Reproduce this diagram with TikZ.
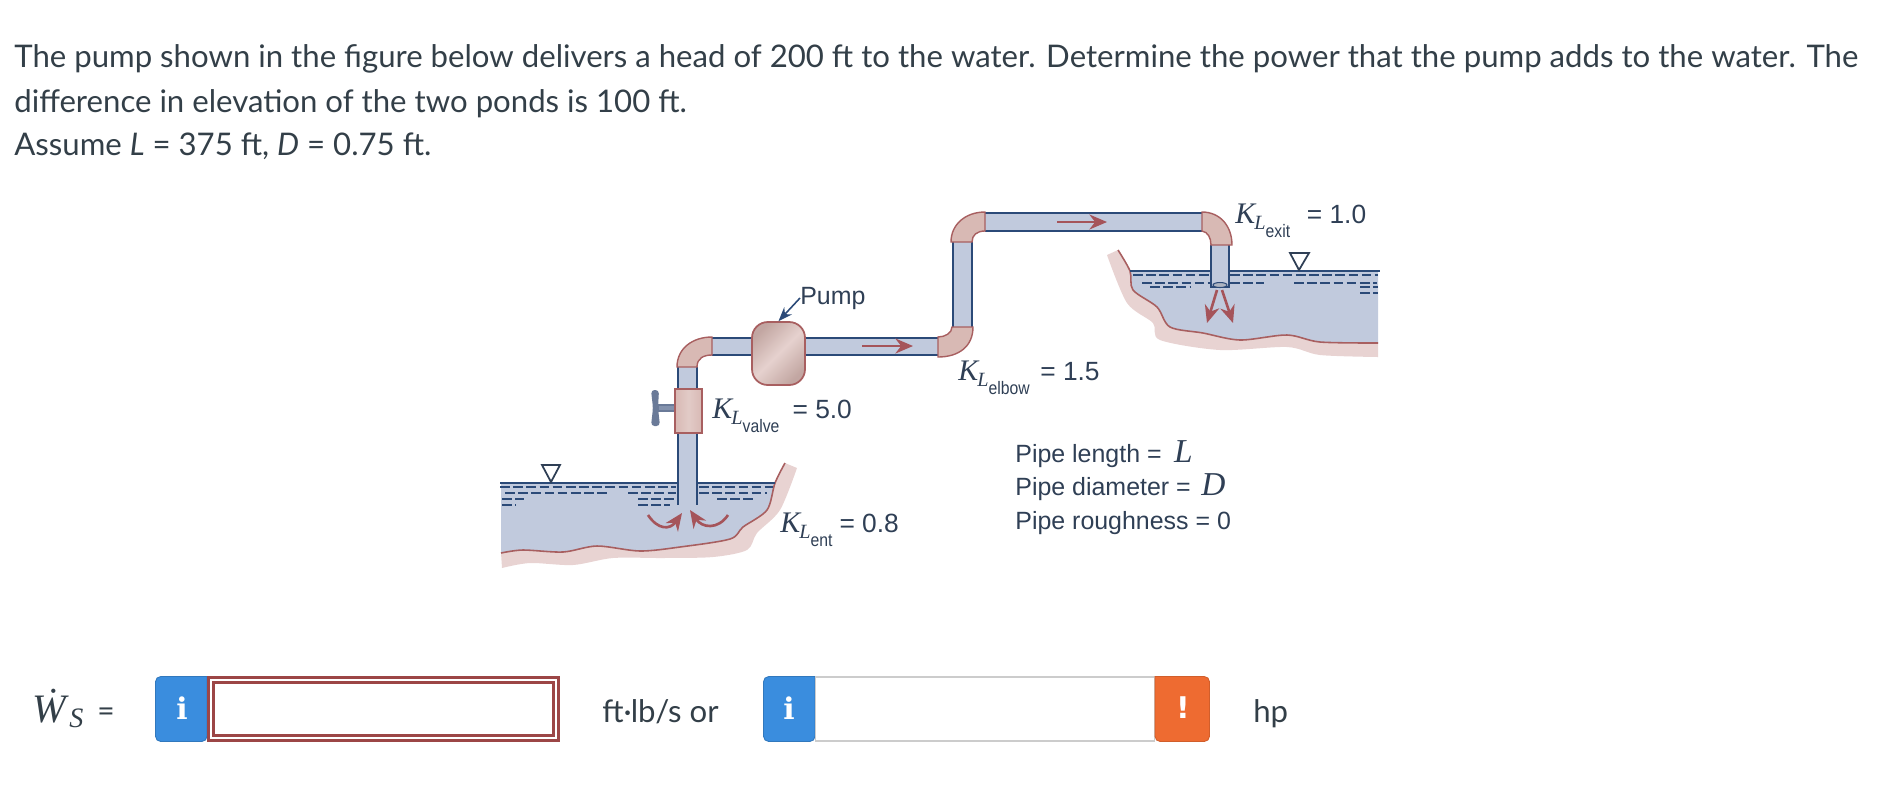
\documentclass[tikz,border=0pt]{standalone}
\usepackage{fontspec}
\setmainfont{Lato}
\newfontfamily\figsans{Liberation Sans}
\newfontfamily\figcond[FakeStretch=0.87]{Liberation Sans}
\newfontfamily\figserif{Liberation Serif}
\newfontfamily\iconserif{DejaVu Serif}
\newfontfamily\iconsans{DejaVu Sans}
\usetikzlibrary{arrows.meta}
\definecolor{bodytext}{HTML}{333F48}
\definecolor{figtext}{HTML}{2F3F55}
\definecolor{pipeline}{HTML}{2B4A78}
\definecolor{waterfill}{HTML}{C1CADD}
\definecolor{fitfill}{HTML}{D8B9B4}
\definecolor{fitline}{HTML}{A85F60}
\definecolor{bankfill}{HTML}{E8D3D2}
\definecolor{flowred}{HTML}{A5545A}
\definecolor{infoblue}{HTML}{3A8DDE}
\definecolor{warnorange}{HTML}{EE6B31}
\definecolor{boxred}{HTML}{9C4646}
\definecolor{boxgrey}{HTML}{CCCCCC}
\definecolor{handlegrey}{HTML}{6A7A98}
\tikzset{
	bodylabel/.style={anchor=base west,inner sep=0pt,text=bodytext,font=\fontsize{17.73}{20}\selectfont},
	figlabel/.style={anchor=base west,inner sep=0pt,text=figtext,font=\figsans\fontsize{14.2}{17}\selectfont},
	pipewall/.style={draw=pipeline,line width=1.2pt},
	fitting/.style={fill=fitfill,draw=fitline,line width=0.8pt},
	flowarrow/.style={color=flowred,line width=1.5pt,-{Stealth[length=10pt,width=8.5pt]}},
	surface/.style={draw=pipeline,line width=0.9pt},
	ripple/.style={draw=pipeline,line width=0.9pt,dash pattern=on 5.5pt off 2pt},
	iconlabel/.style={text=white,font=\bfseries\fontsize{17}{20}\selectfont},
	infobox/.style={fill=infoblue,draw=infoblue!85!black,line width=0.5pt},
	warnbox/.style={fill=warnorange,draw=warnorange!88!black,line width=0.5pt},
	redframe/.style={draw=boxred,line width=1.8pt},
}
\newcommand{\kloss}[3]{{\figserif\itshape\fontsize{17}{20}\selectfont K}\hspace{-0.5pt}\raisebox{-3.8pt}{\figserif\itshape\fontsize{11.5}{15}\selectfont L}\raisebox{-8.5pt}{\figcond\fontsize{10.3}{12}\selectfont #1}\hspace{#2}{\fontsize{15}{18}\selectfont #3}}
\begin{document}
\begin{tikzpicture}[x=0.02cm,y=-0.02cm]
	\useasboundingbox (0,0) rectangle (1894,796);

	% question text
	\node[bodylabel] (line1) at (14,67) {The pump shown in the figure below delivers a head of 200 ft to the water. Determine the power that the pump adds to the water. The};
	\node[bodylabel] (line2) at (14,112) {difference in elevation of the two ponds is 100 ft.};
	\node[bodylabel] (line3) at (14,155) {Assume \textit{L} = 375 ft, \textit{D} = 0.75 ft.};

	% left pond
	\fill[bankfill] plot[smooth] coordinates {(501,553) (523,550) (563,552) (597,546) (640,551) (680,547) (730,539) (743,527) (767,510) (775,483) (785,463)} -- (797,468) -- plot[smooth] coordinates {(797,468) (780,510) (757,533) (747,550) (713,557) (663,558) (613,558) (573,565) (530,563) (502,568)} -- cycle;
	\fill[waterfill] (501,483) -- plot[smooth] coordinates {(501,553) (523,550) (563,552) (597,546) (640,551) (680,547) (730,539) (743,527) (767,510) (775,483)} -- cycle;
	\draw[fitline,line width=0.9pt] plot[smooth] coordinates {(501,553) (523,550) (563,552) (597,546) (640,551) (680,547) (730,539) (743,527) (767,510) (775,483) (785,463)};
	\draw[surface] (500,483) -- (775,483);
	\draw[ripple] (500,487) -- (676,487) (699,487) -- (773,487);
	\draw[ripple] (505,493) -- (608,493) (628,493) -- (676,493) (699,493) -- (767,493);
	\draw[ripple] (502,499) -- (524,499) (638,499) -- (676,499) (717,499) -- (755,499);
	\draw[ripple] (502,505) -- (516,505) (638,505) -- (670,505);
	\draw[fill=white,draw=figtext,line width=1pt] (542,465) -- (560,465) -- (551,482) -- cycle;

	% right pond
	\fill[bankfill] plot[smooth] coordinates {(1130,271) (1133,290) (1157,307) (1170,327) (1203,333) (1240,340) (1287,335) (1320,342) (1378,343)} -- (1378,357) -- plot[smooth] coordinates {(1378,357) (1320,355) (1287,347) (1220,350) (1160,340) (1153,323) (1127,303) (1107,255)} -- (1118,250) -- cycle;
	\fill[waterfill] (1130,271) -- plot[smooth] coordinates {(1130,271) (1133,290) (1157,307) (1170,327) (1203,333) (1240,340) (1287,335) (1320,342) (1378,343)} -- (1378,271) -- cycle;
	\draw[fitline,line width=0.9pt] plot[smooth] coordinates {(1118,250) (1130,271) (1133,290) (1157,307) (1170,327) (1203,333) (1240,340) (1287,335) (1320,342) (1378,343)};
	\draw[surface] (1130,271) -- (1380,271);
	\draw[ripple] (1133,275) -- (1210,275) (1230,275) -- (1378,275);
	\draw[ripple] (1142,283) -- (1210,283) (1230,283) -- (1264,283) (1294,283) -- (1377,283);
	\draw[ripple] (1150,287) -- (1190,287) (1360,287) -- (1378,287);
	\draw[ripple] (1360,293) -- (1378,293);
	\draw[fill=white,draw=figtext,line width=1pt] (1290,253) -- (1309,253) -- (1299,270) -- cycle;

	% pipe runs
	\fill[waterfill] (678,367) rectangle (697,505);
	\fill[waterfill] (712,338) rectangle (940,355);
	\fill[waterfill] (953,242) rectangle (972,327);
	\fill[waterfill] (985,213) rectangle (1202,231);
	\fill[waterfill] (1211,245) rectangle (1229,287);
	\draw[pipewall] (678,367) -- (678,505) (697,367) -- (697,505);
	\draw[pipewall] (712,338) -- (940,338) (712,355) -- (940,355);
	\draw[pipewall] (953,242) -- (953,327) (972,242) -- (972,327);
	\draw[pipewall] (985,213) -- (1202,213) (985,231) -- (1202,231);
	\draw[pipewall] (1211,245) -- (1211,287) -- (1229,287) -- (1229,245);
	\draw[pipeline,fill=waterfill!70!gray,line width=0.6pt] (1220,285) ellipse (7 and 2.5);

	% elbows
	\draw[fitting] (677,367) .. controls (677,348) and (693,337) .. (712,337) -- (712,355) .. controls (704,355) and (697,358) .. (697,367) -- cycle;
	\draw[fitting] (938,357) .. controls (958,357) and (973,347) .. (973,327) -- (952,327) .. controls (952,333) and (945,337) .. (938,337) -- cycle;
	\draw[fitting] (951,242) .. controls (951,224) and (966,212) .. (985,212) -- (985,231) .. controls (977,231) and (972,235) .. (972,242) -- cycle;
	\draw[fitting] (1202,212) .. controls (1220,212) and (1232,226) .. (1232,245) -- (1211,245) .. controls (1211,238) and (1208,232) .. (1202,231) -- cycle;

	% valve and handle
	\fill[handlegrey!70!waterfill,draw=handlegrey,line width=0.6pt] (658,405) rectangle (675,411);
	\fill[handlegrey,rounded corners=2pt] (651,390) -- (659,390) -- (658,408) -- (660,426) -- (651,426) -- (653,408) -- cycle;
	\node[draw=fitline,line width=1.1pt,left color=fitfill,right color=fitfill,middle color=fitfill!75!white,minimum width=0.54cm,minimum height=0.88cm,inner sep=0pt] (valve) at (688.5,411) {};

	% pump
	\node[draw=fitline,line width=1pt,rounded corners=9pt,left color=fitfill!90!black,right color=fitfill!90!black,middle color=fitfill!65!white,shading angle=45,minimum width=1.06cm,minimum height=1.26cm,inner sep=0pt] (pump) at (778.5,353.5) {};
	\node[figlabel] (pumplabel) at (800,304) {Pump};
	\draw[pipeline,line width=0.9pt,-{Stealth[length=8pt,width=6pt]}] (pumplabel.west) -- (pump.north);

	% flow arrows
	\draw[flowarrow] (862,346) -- (913,346);
	\draw[flowarrow] (1057,222) -- (1107,222);
	\draw[flowarrow] (648,515) .. controls (658,530) and (670,530) .. (682,513);
	\draw[flowarrow] (728,515) .. controls (718,530) and (702,528) .. (690,510);
	\draw[flowarrow] (1217,290) -- (1207,323);
	\draw[flowarrow] (1222,290) -- (1233,323);

	% loss coefficients
	\node[figlabel] (kvalve) at (712,418) {\kloss{valve}{7.5pt}{= 5.0}};
	\node[figlabel] (kent) at (780,532) {\kloss{ent}{4pt}{= 0.8}};
	\node[figlabel] (kelbow) at (958,380) {\kloss{elbow}{6pt}{= 1.5}};
	\node[figlabel] (kexit) at (1235,223) {\kloss{exit}{9.5pt}{= 1.0}};

	% pipe data
	\node[figlabel] (pipelength) at (1015,462) {Pipe length =\hspace{7pt}{\figserif\itshape\fontsize{19}{20}\selectfont L}};
	\node[figlabel] (pipediam) at (1015,495) {Pipe diameter =\hspace{6pt}{\figserif\itshape\fontsize{19}{20}\selectfont D}};
	\node[figlabel] (piperough) at (1015,529) {Pipe roughness = 0};

	% answer row
	\node[bodylabel,font=\figserif\itshape\fontsize{23}{26}\selectfont] (wdot) at (32,722) {\.{W}};
	\node[bodylabel,font=\figserif\itshape\fontsize{16}{18}\selectfont] (wsub) at (69,727) {S};
	\node[bodylabel,font=\fontsize{17}{18}\selectfont] (wequal) at (97,721) {=};

	\draw[infobox] (207,676.5) [rounded corners=3pt] -- (155.5,676.5) -- (155.5,741.5) -- (207,741.5) [sharp corners] -- cycle;
	\node[iconlabel,font=\iconserif\bfseries\fontsize{17}{20}\selectfont] (info1) at (182,708) {i};
	\node[redframe,minimum width=6.998cm,minimum height=1.26cm,inner sep=0pt] (answer1outer) at (383.6,709) {};
	\node[redframe,minimum width=6.798cm,minimum height=1.06cm,inner sep=0pt] (answer1inner) at (383.4,709) {};
	\node[bodylabel] (unit1) at (602,722) {ft·lb/s or};

	\draw[infobox] (815,676.5) [rounded corners=3pt] -- (763.5,676.5) -- (763.5,741.5) -- (815,741.5) [sharp corners] -- cycle;
	\node[iconlabel,font=\iconserif\bfseries\fontsize{17}{20}\selectfont] (info2) at (789,708) {i};
	\node[draw=boxgrey,line width=1pt,minimum width=6.78cm,minimum height=1.28cm,inner sep=0pt] (answer2) at (985,709) {};
	\draw[warnbox] (1155,676.5) [rounded corners=3pt] -- (1209.5,676.5) -- (1209.5,741.5) -- (1155,741.5) [sharp corners] -- cycle;
	\node[iconlabel,font=\iconsans\bfseries\fontsize{17}{20}\selectfont] (warn) at (1183,708) {!};
	\node[bodylabel] (unit2) at (1253,722) {hp};
\end{tikzpicture}
\end{document}
